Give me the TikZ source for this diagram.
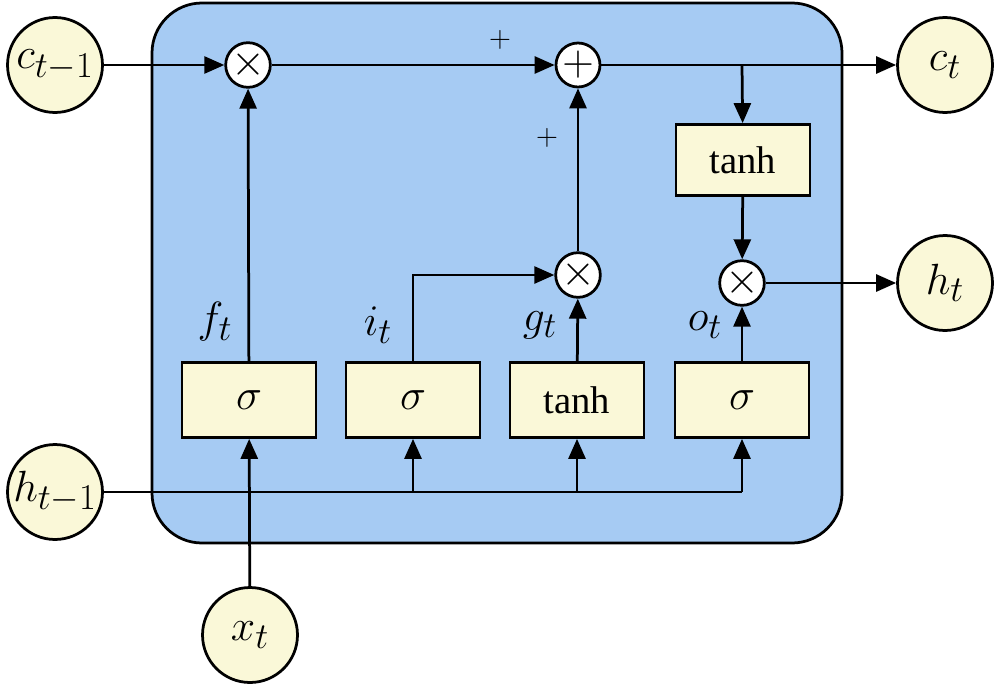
\documentclass[tikz,border=0pt]{standalone}
\usepackage{fontspec}
\setmainfont{Liberation Serif}
\usetikzlibrary{arrows.meta}
\definecolor{cellblue}{HTML}{A6CBF3}
\definecolor{cream}{HTML}{FAF8D8}
\begin{document}
\begin{tikzpicture}[x=0.02cm,y=-0.02cm,
 line width=0.55mm,
 arr/.style={-{Triangle[length=4mm,width=3.4mm]}},
 io/.style={circle,draw,fill=cream,minimum size=1.9cm,inner sep=0pt,font=\fontsize{30}{32}\selectfont},
 op/.style={circle,draw,fill=white,minimum size=0.88cm,inner sep=0pt,font=\fontsize{26}{26}\selectfont},
 gate/.style={draw,fill=cream,minimum width=2.68cm,minimum height=1.5cm,inner sep=0pt,font=\fontsize{26}{28}\selectfont},
 lbl/.style={font=\fontsize{28}{30}\selectfont}]
\useasboundingbox (0,0) rectangle (996,696);
\draw[fill=cellblue,rounded corners=1cm] (152,3) rectangle (842,543);
\node[io] (c0) at (55,65) {$c_{t-1}$};
\node[io] (c1) at (945,65) {$c_t$};
\node[io] (h1) at (945,283) {$h_t$};
\node[io] (h0) at (55,492) {$h_{t-1}$};
\node[io] (x) at (250,635) {$x_t$};
\node[op] (mf) at (248,65) {$\times$};
\node[op] (pl) at (578,65) {$+$};
\node[op] (mi) at (578,275) {$\times$};
\node[op] (mo) at (742,283) {$\times$};
\node[gate] (sf) at (249,400) {$\sigma$};
\node[gate] (si) at (413,400) {$\sigma$};
\node[gate,font=\fontsize{22}{24}\selectfont] (tg) at (577,400) {tanh};
\node[gate] (so) at (742,400) {$\sigma$};
\node[gate,minimum height=1.42cm,font=\fontsize{22}{24}\selectfont] (tc) at (743,160) {tanh};
\node[lbl] (lf) at (215,322) {$f_t$};
\node[lbl] (li) at (378,325) {$i_t$};
\node[lbl] (lg) at (540,325) {$g_t$};
\node[lbl] (lo) at (705,325) {$o_t$};
\node[font=\fontsize{18}{18}\selectfont] (p1) at (500,40) {$+$};
\node[font=\fontsize{18}{18}\selectfont] (p2) at (547,138) {$+$};
\coordinate (br) at (742,65);
\coordinate (hi) at (413,277);
\coordinate (hr) at (742,492);
\coordinate (ha) at (413,492);
\coordinate (hb) at (577,492);
\draw[arr] (c0) -- (mf);
\draw[arr] (mf) -- (pl);
\draw[arr] (pl) -- (c1);
\draw[arr] (br) -- (tc);
\draw[arr] (tc) -- (mo);
\draw[arr] (mo) -- (h1);
\draw[arr] (sf) -- (mf);
\draw[arr] (si.north) |- (mi);
\draw[arr] (tg) -- (mi);
\draw[arr] (mi) -- (pl);
\draw[arr] (so) -- (mo);
\draw (h0) -- (hr);
\draw[arr] (ha) -- (si);
\draw[arr] (hb) -- (tg);
\draw[arr] (hr) -- (so);
\draw[arr] (x) -- (sf);
\end{tikzpicture}
\end{document}
